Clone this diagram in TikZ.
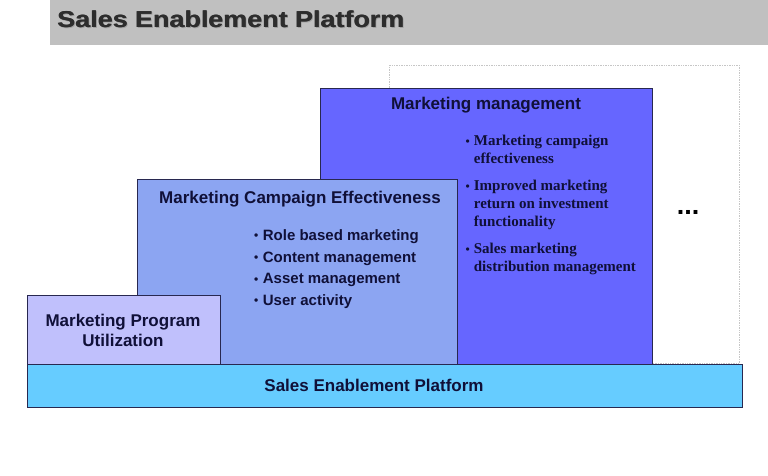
\documentclass[tikz,border=0pt]{standalone}
\usepackage{fontspec}
\setmainfont{Liberation Sans}
\newfontfamily\serifb{Liberation Serif}
\usepackage{array}
\definecolor{titlebar}{RGB}{192,192,192}
\definecolor{titletext}{RGB}{45,45,45}
\definecolor{navytext}{RGB}{16,16,56}
\definecolor{mmfill}{RGB}{102,102,255}
\definecolor{mcefill}{RGB}{140,165,242}
\definecolor{mpufill}{RGB}{192,192,252}
\definecolor{sepfill}{RGB}{102,204,255}
\definecolor{edge}{RGB}{40,40,80}
\tikzset{
  box/.style={draw=edge, line width=0.9pt, anchor=north west, inner sep=0pt},
  head/.style={text=navytext, font=\bfseries\fontsize{17}{20}\selectfont, inner sep=0pt},
  lst/.style={text=navytext, anchor=north west, inner sep=0pt, align=left}
}
\newcommand{\smb}{{\fontsize{12}{12}\selectfont\raisebox{0.5pt}{•}}}
\begin{document}
\begin{tikzpicture}[x=1pt,y=-1pt]
\useasboundingbox (0,0) rectangle (768,476);
\fill[white] (0,0) rectangle (768,476);
% title bar
\node[anchor=north west, fill=titlebar, minimum width=718pt, minimum height=45pt, inner sep=0pt] (bar) at (50,0) {};
\node[anchor=west, inner sep=0pt, text=gray!75, font=\bfseries\fontsize{23}{26}\selectfont] (tshadow) at (58.2,20.2) {\scalebox{1.17}[1]{Sales Enablement Platform}};
\node[anchor=west, inner sep=0pt, text=titletext, font=\bfseries\fontsize{23}{26}\selectfont] (title2) at (57.5,19) {\scalebox{1.17}[1]{Sales Enablement Platform}};
\node[anchor=west, inner sep=0pt, text=titletext, font=\bfseries\fontsize{23}{26}\selectfont] (title) at (57,19) {\scalebox{1.17}[1]{Sales Enablement Platform}};
% dashed placeholder
\node[draw=gray!45, densely dotted, line width=0.7pt, anchor=north west, minimum width=350pt, minimum height=298pt, inner sep=0pt] (more) at (389,65) {};
% boxes
\node[box, fill=mmfill, minimum width=332pt, minimum height=276pt] (mm) at (320,88) {};
\node[box, fill=mcefill, minimum width=320pt, minimum height=185pt] (mce) at (137,179) {};
\node[box, fill=mpufill, minimum width=193pt, minimum height=69pt] (mpu) at (27,295) {};
\node[box, fill=sepfill, minimum width=715pt, minimum height=43pt] (sep) at (27,364) {};
% texts
\node[head] (mmh) at (486,105) {Marketing management};
\node[lst, font=\serifb\bfseries\fontsize{15}{18}\selectfont] (mml) at (465.5,133) {%
\begin{tabular}{@{}l@{\hspace{4pt}}l@{}}
\smb & Marketing campaign\\
 & effectiveness\\[9pt]
\smb & Improved marketing\\
 & return on investment\\
 & functionality\\[9pt]
\smb & Sales marketing\\
 & distribution management
\end{tabular}};
\node[head] (mceh) at (300,199) {Marketing Campaign Effectiveness};
\node[lst, font=\bfseries\fontsize{15}{21.7}\selectfont] (mcel) at (254,225) {%
\begin{tabular}{@{}l@{\hspace{4.5pt}}l@{}}
\smb & Role based marketing\\
\smb & Content management\\
\smb & Asset management\\
\smb & User activity
\end{tabular}};
\node[head, align=center, font=\bfseries\fontsize{17}{20}\selectfont] (mpuh) at (123,330) {Marketing Program\\Utilization};
\node[head] (seph) at (374,385) {Sales Enablement Platform};
\node[inner sep=0pt, text=black, font=\bfseries\fontsize{27}{27}\selectfont] (dots) at (688,212) {...};
\end{tikzpicture}
\end{document}
